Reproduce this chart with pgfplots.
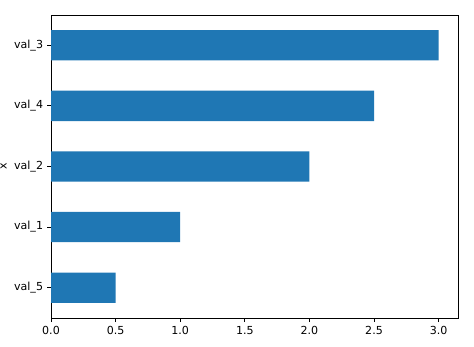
\documentclass[border=0pt]{standalone}
\usepackage{pgfplots}
\pgfplotsset{compat=1.18}
\usepackage{fontspec}
\setmainfont{DejaVu Sans}
\definecolor{mplblue}{HTML}{1F77B4}
\begin{document}
\fontsize{8.3}{10}\selectfont
\begin{tikzpicture}
\useasboundingbox (-38.25pt,-21pt) rectangle (317.25pt,238.5pt);
\begin{axis}[
  at={(0,0)}, anchor=south west,
  scale only axis, width=305.25pt, height=227.25pt,
  xbar, bar width=0.5,
  xmin=0, xmax=3.15, ymin=-0.5, ymax=4.5,
  ytick={0,1,2,3,4}, yticklabels={val\_5,val\_1,val\_2,val\_4,val\_3},
  xtick={0,0.5,1,1.5,2,2.5,3},
  xticklabel style={/pgf/number format/fixed, /pgf/number format/fixed zerofill, /pgf/number format/precision=1},
  /pgf/number format/assume math mode=true,
  tick align=outside, tick pos=lower, major tick length=3pt,
  axis line style={line width=0.65pt}, every tick/.style={black, line width=0.65pt},
  ylabel={x},
  every axis y label/.style={at={(rel axis cs:0,0.5)}, xshift=-35.5pt, rotate=90, anchor=center},
  tick label style={font=\fontsize{8.3}{10}\selectfont},
  label style={font=\fontsize{8.3}{10}\selectfont},
]
\addplot[fill=mplblue, draw=none] coordinates {(0.5,0) (1,1) (2,2) (2.5,3) (3,4)};
\end{axis}
\end{tikzpicture}
\end{document}
